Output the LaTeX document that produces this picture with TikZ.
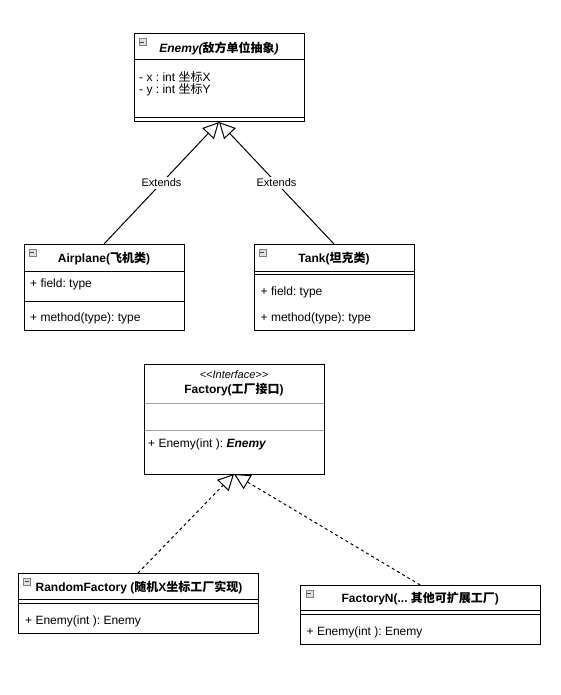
\documentclass[tikz,border=0pt]{standalone}
\usepackage{fontspec}
\setmainfont{Liberation Sans}[Ligatures=TeXOff]
\newfontfamily\cjkf{Noto Sans CJK SC}[AutoFakeSlant=0.2]
\newcommand\zh[1]{{\cjkf #1}}
\usetikzlibrary{arrows.meta}
\frenchspacing
\begin{document}
\begin{tikzpicture}[x=1pt,y=-1pt,
  box/.style={draw, line width=1pt, anchor=north west, inner sep=0pt, outer sep=0pt},
  sep/.style={line width=1pt},
  gsep/.style={line width=1pt, draw=black!38},
  txt/.style={inner sep=0pt, text height=8.6pt, text depth=0pt, font=\fontsize{12}{14}\selectfont},
  member/.style={txt, anchor=west},
  ttl/.style={txt, font=\fontsize{12}{14}\selectfont\bfseries},
  icon/.style={draw=black!50, fill=black!12, line width=0.6pt, minimum size=7pt, inner sep=0pt, anchor=north west,
    path picture={\draw[black!75, line width=0.9pt] ([xshift=1.5pt]path picture bounding box.west) -- ([xshift=-1.5pt]path picture bounding box.east);}},
  ext/.style={line width=1pt, -{Triangle[open, length=16pt, width=16pt, line width=1pt]}},
  impl/.style={ext, dash pattern=on 3pt off 3pt},
  elabel/.style={fill=white, inner sep=1.5pt, font=\fontsize{11}{13}\selectfont}
]
\useasboundingbox (0,0) rectangle (560,695);

% Enemy
\node[box, minimum width=170pt, minimum height=88pt] (enemy) at (134,34) {};
\draw[sep] (134,60) -- (304,60);
\draw[sep] (134,118) -- (304,118);
\node[icon] (enemyI) at (138.5,38.5) {};
\node[ttl, font=\fontsize{12}{14}\selectfont\bfseries\itshape] (enemyT) at (219,48.5) {Enemy(\zh{敌方单位抽象})};
\node[member] (enemyX) at (139,77) {- x : int \zh{坐标}X};
\node[member] (enemyY) at (139,89) {- y : int \zh{坐标}Y};

% Airplane
\node[box, minimum width=160pt, minimum height=86pt] (air) at (24,244) {};
\draw[sep] (24,271) -- (184,271);
\draw[sep] (24,301) -- (184,301);
\node[icon] (airI) at (28.5,248.5) {};
\node[ttl] (airT) at (104,258.5) {Airplane(\zh{飞机类})};
\node[member] (airF) at (30,283) {+ field: type};
\node[member] (airM) at (30,317.5) {+ method(type): type};

% Tank
\node[box, minimum width=160pt, minimum height=86pt] (tank) at (254,244) {};
\draw[sep] (254,271) -- (414,271);
\draw[sep] (254,274.5) -- (414,274.5);
\node[icon] (tankI) at (258.5,248.5) {};
\node[ttl] (tankT) at (334,258.5) {Tank(\zh{坦克类})};
\node[member] (tankF) at (260.5,291.5) {+ field: type};
\node[member] (tankM) at (260.5,317.5) {+ method(type): type};

% Factory interface
\node[box, minimum width=180pt, minimum height=110pt] (fac) at (144,364) {};
\draw[gsep] (144.5,403.5) -- (323.5,403.5);
\draw[gsep] (144.5,430.5) -- (323.5,430.5);
\node[txt, font=\fontsize{11}{13}\selectfont\itshape, text height=7.9pt] (facS) at (234,375) {<<Interface>>};
\node[ttl] (facT) at (234,389) {Factory(\zh{工厂接口})};
\node[member] (facM) at (148,443.5) {+ Enemy(int ): \textbf{\textit{Enemy}}};

% RandomFactory
\node[box, minimum width=240pt, minimum height=60pt] (rf) at (18,573) {};
\draw[sep] (18,599) -- (258,599);
\draw[sep] (18,603) -- (258,603);
\node[icon] (rfI) at (23,578) {};
\node[ttl] (rfT) at (139,587.5) {RandomFactory (\zh{随机}X\zh{坐标工厂实现})};
\node[member] (rfM) at (25,620.5) {+ Enemy(int ): Enemy};

% FactoryN
\node[box, minimum width=239.5pt, minimum height=59.5pt] (fn) at (300.5,585) {};
\draw[sep] (300.5,610) -- (540,610);
\draw[sep] (300.5,614) -- (540,614);
\node[icon] (fnI) at (305.5,590) {};
\node[ttl] (fnT) at (420.3,597.7) {FactoryN(... \zh{其他可扩展工厂})};
\node[member] (fnM) at (306.5,631.5) {+ Enemy(int ): Enemy};

% connectors
\draw[ext] (air.north) -- node[elabel] (l1) {Extends} (enemy.south);
\draw[ext] (tank.north) -- node[elabel] (l2) {Extends} (enemy.south);
\draw[impl] (rf.north) -- (fac.south);
\draw[impl] (fn.north) -- (fac.south);
\end{tikzpicture}
\end{document}
